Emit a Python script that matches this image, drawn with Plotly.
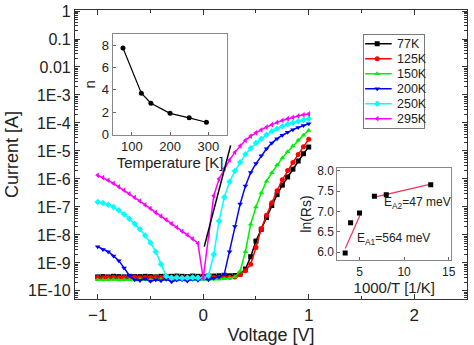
import plotly.graph_objects as go

# ---- I-V sweeps: voltage (V) and log10 of current (A) per temperature ----
volts = [-1.00, -0.95, -0.90, -0.85, -0.80, -0.75, -0.70, -0.65, -0.60, -0.55,
         -0.50, -0.45, -0.40, -0.35, -0.30, -0.25, -0.20, -0.15, -0.10, -0.05,
         0.00, 0.05, 0.10, 0.15, 0.20, 0.25, 0.30, 0.35, 0.40, 0.45,
         0.50, 0.55, 0.60, 0.65, 0.70, 0.75, 0.80, 0.85, 0.90, 0.95, 1.00]

log_i_77K = [-9.50, -9.49, -9.50, -9.48, -9.49, -9.50, -9.48, -9.49, -9.49, -9.48,
             -9.49, -9.50, -9.48, -9.49, -9.48, -9.47, -9.48, -9.49, -9.47, -9.48,
             -9.48, -9.47, -9.47, -9.46, -9.46, -9.46, -9.45, -9.40, -9.22, -8.78,
             -8.22, -7.80, -7.38, -6.95, -6.56, -6.22, -5.93, -5.65, -5.36, -5.10, -4.86]

log_i_125K = [-9.52, -9.53, -9.52, -9.51, -9.53, -9.52, -9.52, -9.51, -9.53, -9.52,
              -9.52, -9.51, -9.52, -9.53, -9.52, -9.51, -9.52, -9.52, -9.51, -9.52,
              -9.53, -9.52, -9.52, -9.51, -9.51, -9.51, -9.50, -9.42, -9.28, -9.05,
              -8.45, -7.78, -7.30, -6.85, -6.42, -6.03, -5.70, -5.41, -5.13, -4.85, -4.58]

log_i_150K = [-9.60, -9.61, -9.60, -9.59, -9.61, -9.60, -9.60, -9.61, -9.59, -9.60,
              -9.61, -9.60, -9.59, -9.60, -9.60, -9.61, -9.60, -9.59, -9.60, -9.60,
              -9.59, -9.59, -9.58, -9.58, -9.57, -9.55, -9.50, -9.30, -8.60, -7.62,
              -7.00, -6.50, -6.08, -5.78, -5.50, -5.25, -5.03, -4.82, -4.62, -4.44, -4.27]

log_i_200K = [-8.42, -8.52, -8.60, -8.75, -8.92, -9.18, -9.45, -9.60, -9.63, -9.57,
              -9.66, -9.60, -9.64, -9.58, -9.67, -9.61, -9.60, -9.65, -9.58, -9.62,
              -9.57, -9.60, -9.55, -9.50, -9.40, -8.60, -7.70, -6.90, -6.25, -5.77,
              -5.45, -5.17, -4.92, -4.72, -4.56, -4.44, -4.33, -4.24, -4.16, -4.09, -4.03]

log_i_250K = [-6.82, -6.86, -6.92, -7.00, -7.12, -7.26, -7.42, -7.60, -7.80, -8.02,
              -8.28, -8.60, -9.05, -9.48, -9.53, -9.52, -9.54, -9.53, -9.52, -9.53,
              -9.55, -9.45, -8.70, -7.50, -6.65, -6.10, -5.72, -5.40, -5.12, -4.90,
              -4.72, -4.56, -4.42, -4.30, -4.21, -4.12, -4.05, -3.99, -3.94, -3.89, -3.85]

log_i_295K = [-5.87, -5.95, -6.05, -6.16, -6.28, -6.40, -6.53, -6.66, -6.79, -6.93,
              -7.06, -7.20, -7.33, -7.46, -7.60, -7.73, -7.87, -8.00, -8.14, -8.30,
              -9.55, -8.00, -6.60, -6.00, -5.63, -5.32, -5.05, -4.82, -4.62, -4.47,
              -4.35, -4.25, -4.15, -4.06, -3.98, -3.91, -3.85, -3.80, -3.75, -3.71, -3.68]

# straight fit through the steep part of the 295K forward branch
fit_v = [0.01, 0.26]
fit_log_i = [-8.42, -4.80]

# ---- inset: ideality factor n vs temperature ----
temps_k = [77, 125, 150, 200, 250, 295]
ideality_n = [7.75, 3.70, 2.80, 1.90, 1.50, 1.10]

# ---- inset: ln(Rs) vs 1000/T with two Arrhenius fits ----
inv_t = [3.39, 4.00, 5.00, 6.67, 8.00, 12.99]
ln_rs = [5.98, 6.72, 6.96, 7.37, 7.41, 7.655]
fit1_x = [3.40, 5.14]
fit1_y = [6.09, 6.95]
fit2_x = [6.69, 13.00]
fit2_y = [7.35, 7.67]

y_tickvals = [1, 0.1, 0.01, 1e-3, 1e-4, 1e-5, 1e-6, 1e-7, 1e-8, 1e-9, 1e-10]
y_ticktext = ["1", "0.1", "0.01", "1E-3", "1E-4", "1E-5", "1E-6", "1E-7",
              "1E-8", "1E-9", "1E-10"]

series = [
    ("77K", log_i_77K, "#000000", "square"),
    ("125K", log_i_125K, "#ff0000", "circle"),
    ("150K", log_i_150K, "#00ee00", "triangle-up"),
    ("200K", log_i_200K, "#0000ff", "triangle-down"),
    ("250K", log_i_250K, "#00ffff", "diamond"),
    ("295K", log_i_295K, "#ff00ff", "triangle-left"),
]

FONT = "Liberation Sans, Arial, sans-serif"
TXT = "#222222"

fig = go.Figure()

for name, logs, color, sym in series:
    fig.add_trace(go.Scatter(
        x=volts, y=[10 ** v for v in logs], name=name, mode="lines+markers",
        line=dict(color=color, width=1.5),
        marker=dict(symbol=sym, size=5, color=color), showlegend=False,
    ))

fig.add_trace(go.Scatter(
    x=fit_v, y=[10 ** v for v in fit_log_i], mode="lines",
    line=dict(color="#000000", width=1.5), showlegend=False, hoverinfo="skip",
))

# inset 1
fig.add_trace(go.Scatter(
    x=temps_k, y=ideality_n, mode="lines+markers", xaxis="x2", yaxis="y2",
    line=dict(color="#000000", width=1.2), marker=dict(size=5, color="#000000"),
    showlegend=False,
))

# inset 2
fig.add_trace(go.Scatter(
    x=fit1_x, y=fit1_y, mode="lines", xaxis="x3", yaxis="y3",
    line=dict(color="#ee3355", width=1.2), showlegend=False,
))
fig.add_trace(go.Scatter(
    x=fit2_x, y=fit2_y, mode="lines", xaxis="x3", yaxis="y3",
    line=dict(color="#ee3355", width=1.2), showlegend=False,
))
fig.add_trace(go.Scatter(
    x=inv_t, y=ln_rs, mode="markers", xaxis="x3", yaxis="y3",
    marker=dict(symbol="square", size=5, color="#000000"), showlegend=False,
))

# compact boxed legend drawn on its own small axis (rows top to bottom)
legend_annotations = []
n_rows = len(series)
for row, (name, _, color, sym) in enumerate(series):
    ry = 1 - (row + 0.6) / (n_rows + 0.2)
    fig.add_trace(go.Scatter(
        x=[0.02, 0.46], y=[ry, ry], mode="lines", xaxis="x4", yaxis="y4",
        line=dict(color=color, width=1.5), showlegend=False, hoverinfo="skip",
    ))
    fig.add_trace(go.Scatter(
        x=[0.22], y=[ry], mode="markers", xaxis="x4", yaxis="y4",
        marker=dict(symbol=sym, size=5, color=color), showlegend=False,
        hoverinfo="skip",
    ))
    legend_annotations.append(dict(
        x=0.51, y=ry, xref="x4", yref="y4", xanchor="left", yanchor="middle",
        text=name, showarrow=False, font=dict(size=12.5, color=TXT, family=FONT),
    ))

minor_y = [k * 10.0 ** d for d in range(-11, 0) for k in range(2, 10)]

axis_common = dict(showline=True, linecolor="#333333", linewidth=1.2,
                   ticks="inside", mirror="allticks", showgrid=False,
                   zeroline=False, tickcolor="#333333")

inset_common = dict(showline=True, linecolor="#888888", mirror=True,
                    ticks="inside", ticklen=3, tickcolor="#666666",
                    showgrid=False, zeroline=False)

fig.update_layout(
    width=474, height=345,
    margin=dict(l=75, r=3, t=9, b=46),
    paper_bgcolor="white", plot_bgcolor="white",
    font=dict(family=FONT, color=TXT),
    showlegend=False,
    xaxis=dict(**axis_common, range=[-1.215, 2.5], tickvals=[-1, 0, 1, 2],
               ticklen=5, tickfont=dict(size=17),
               minor=dict(tickvals=[-0.5, 0.5, 1.5], ticks="inside", ticklen=3,
                          tickcolor="#333333"),
               title=dict(text="Voltage [V]", font=dict(size=18), standoff=4)),
    yaxis=dict(**axis_common, type="log", range=[-10.29, 0.036],
               tickvals=y_tickvals, ticktext=y_ticktext, ticklen=5,
               tickfont=dict(size=16),
               minor=dict(tickvals=minor_y, ticks="inside", ticklen=3,
                          tickcolor="#333333"),
               title=dict(text="Current [A]", font=dict(size=18), standoff=4)),
    xaxis2=dict(**inset_common, domain=[0.096, 0.389], anchor="y2",
                range=[50, 350], tickvals=[100, 200, 300],
                tickfont=dict(size=13),
                title=dict(text="Temperature [K]", font=dict(size=15), standoff=2)),
    yaxis2=dict(**inset_common, domain=[0.569, 0.917], anchor="x2",
                range=[0, 9], tickvals=[0, 2, 4, 6, 8],
                tickfont=dict(size=13),
                title=dict(text="n", font=dict(size=15), standoff=2)),
    xaxis3=dict(**inset_common, domain=[0.669, 0.960], anchor="y3",
                range=[2.5, 15.3], tickvals=[5, 10, 15],
                tickfont=dict(size=12),
                title=dict(text="1000/T [1/K]", font=dict(size=15), standoff=2)),
    yaxis3=dict(**inset_common, domain=[0.134, 0.454], anchor="x3",
                range=[5.8, 8.07], tickvals=[6.0, 6.5, 7.0, 7.5, 8.0],
                tickformat=".1f", tickfont=dict(size=12),
                title=dict(text="ln(Rs)", font=dict(size=14), standoff=2)),
    xaxis4=dict(domain=[0.737, 0.891], anchor="y4", range=[0, 1],
                showline=True, linecolor="#777777", mirror=True,
                showticklabels=False, ticks="", showgrid=False, zeroline=False,
                fixedrange=True),
    yaxis4=dict(domain=[0.593, 0.914], anchor="x4", range=[0, 1],
                showline=True, linecolor="#777777", mirror=True,
                showticklabels=False, ticks="", showgrid=False, zeroline=False,
                fixedrange=True),
    annotations=[
        dict(x=7.5, y=7.2, xref="x3", yref="y3", xanchor="left",
             text="E<sub>A2</sub>=47 meV", showarrow=False,
             font=dict(size=12, color=TXT)),
        dict(x=4.5, y=6.32, xref="x3", yref="y3", xanchor="left",
             text="E<sub>A1</sub>=564 meV", showarrow=False,
             font=dict(size=12, color=TXT)),
    ] + legend_annotations,
)

fig.write_html("out.html")
